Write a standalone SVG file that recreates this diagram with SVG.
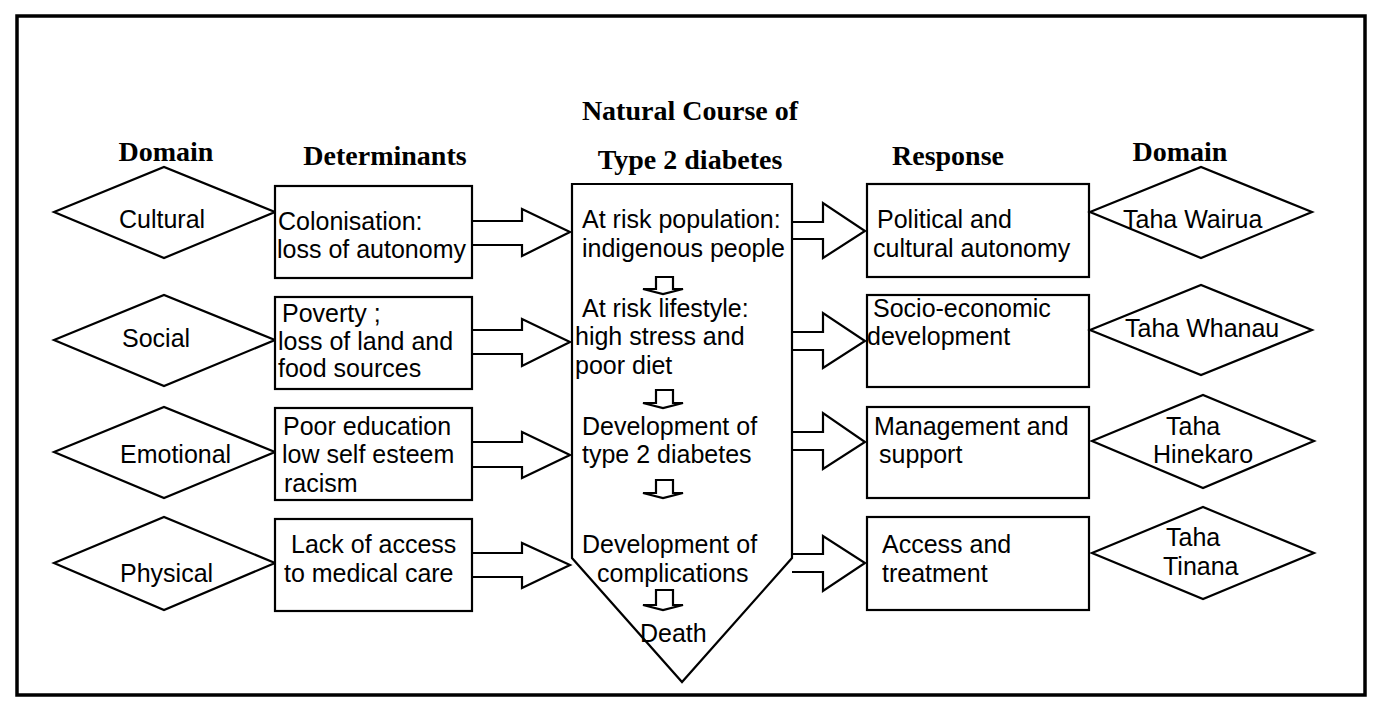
<svg xmlns="http://www.w3.org/2000/svg" width="1374" height="728" viewBox="0 0 1374 728">
<style>
.sh{fill:#fff;stroke:#000;stroke-width:2.2;stroke-linejoin:miter}
.ar{fill:#fff;stroke:#000;stroke-width:2.2;stroke-linejoin:miter}
.t{font-family:"Liberation Sans",Arial,sans-serif;font-size:25px;fill:#000}
.h{font-family:"Liberation Serif","Times New Roman",serif;font-size:28px;font-weight:bold;fill:#000;text-anchor:middle}
</style>
<rect x="0" y="0" width="1374" height="728" fill="#fff"/>
<rect x="17" y="16" width="1348" height="679" fill="none" stroke="#000" stroke-width="3.5"/>
<g id="headers">
<text class="h" x="166" y="161">Domain</text>
<text class="h" x="385" y="165">Determinants</text>
<text class="h" x="690" y="120">Natural Course of</text>
<text class="h" x="690" y="169">Type 2 diabetes</text>
<text class="h" x="948" y="165">Response</text>
<text class="h" x="1180" y="161">Domain</text>
</g>
<g id="connectors">
<path class="ar" d="M472,221 H522 V209 L570,232 L522,256 V245 H472"/>
<path class="ar" d="M472,330 H522 V319 L570,342 L522,366 V354 H472"/>
<path class="ar" d="M472,442 H522 V432 L570,455 L522,478 V467 H472"/>
<path class="ar" d="M472,553 H522 V543 L570,565 L522,588 V577 H472"/>
<path class="ar" d="M792,222 H823 V203 L865,231 L823,258 V239 H792"/>
<path class="ar" d="M792,332 H823 V313 L865,341 L823,368 V350 H792"/>
<path class="ar" d="M792,432 H823 V413 L865,442 L823,469 V450 H792"/>
<path class="ar" d="M792,554 H823 V536 L865,563 L823,591 V572 H792"/>
</g>
<g id="course">
<path class="sh" d="M572,184 H792 V558 L682,682 L572,558 Z"/>
<text class="t" x="582" y="228">At risk population:</text>
<text class="t" x="582" y="257">indigenous people</text>
<text class="t" x="582" y="317">At risk lifestyle:</text>
<text class="t" x="575" y="345">high stress and</text>
<text class="t" x="575" y="374">poor diet</text>
<text class="t" x="582" y="435">Development of</text>
<text class="t" x="582" y="463">type 2 diabetes</text>
<text class="t" x="582" y="553">Development of</text>
<text class="t" x="597" y="582">complications</text>
<text class="t" x="640" y="642">Death</text>
</g>
<g id="stage-arrows">
<path class="ar" d="M656,277 H673 V289 H683 L663,294 L643,289 H656 Z"/>
<path class="ar" d="M656,390 H673 V403 H683 L663,408 L643,403 H656 Z"/>
<path class="ar" d="M656,480 H673 V493 H683 L663,498 L643,493 H656 Z"/>
<path class="ar" d="M656,590 H673 V605 H683 L663,610 L643,605 H656 Z"/>
</g>
<g id="domain-cultural">
<path class="sh" d="M54,212 L164,167 L275,212 L164,258 Z"/>
<text class="t" x="119" y="228">Cultural</text>
</g>
<g id="domain-social">
<path class="sh" d="M54,340 L164,295 L275,340 L164,386 Z"/>
<text class="t" x="122" y="347">Social</text>
</g>
<g id="domain-emotional">
<path class="sh" d="M54,452 L164,407 L275,452 L164,498 Z"/>
<text class="t" x="120" y="463">Emotional</text>
</g>
<g id="domain-physical">
<path class="sh" d="M54,563 L164,517 L275,563 L164,610 Z"/>
<text class="t" x="120" y="582">Physical</text>
</g>
<g id="det-colonisation">
<rect class="sh" x="275" y="186" width="197" height="92"/>
<text class="t" x="278" y="230">Colonisation:</text>
<text class="t" x="277" y="258">loss of autonomy</text>
</g>
<g id="det-poverty">
<rect class="sh" x="275" y="297" width="197" height="92"/>
<text class="t" x="282" y="322">Poverty ;</text>
<text class="t" x="278" y="350">loss of land and</text>
<text class="t" x="278" y="377">food sources</text>
</g>
<g id="det-education">
<rect class="sh" x="275" y="408" width="197" height="92"/>
<text class="t" x="283" y="435">Poor education</text>
<text class="t" x="282" y="463">low self esteem</text>
<text class="t" x="284" y="492">racism</text>
</g>
<g id="det-access">
<rect class="sh" x="275" y="519" width="197" height="92"/>
<text class="t" x="291" y="553">Lack of access</text>
<text class="t" x="284" y="582">to medical care</text>
</g>
<g id="resp-political">
<rect class="sh" x="867" y="184" width="222" height="93"/>
<text class="t" x="877" y="228">Political and</text>
<text class="t" x="873" y="257">cultural autonomy</text>
</g>
<g id="resp-socio">
<rect class="sh" x="867" y="295" width="222" height="92"/>
<text class="t" x="873" y="317">Socio-economic</text>
<text class="t" x="867" y="345">development</text>
</g>
<g id="resp-management">
<rect class="sh" x="867" y="407" width="222" height="91"/>
<text class="t" x="874" y="435">Management and</text>
<text class="t" x="879" y="463">support</text>
</g>
<g id="resp-access">
<rect class="sh" x="867" y="517" width="222" height="93"/>
<text class="t" x="882" y="553">Access and</text>
<text class="t" x="882" y="582">treatment</text>
</g>
<g id="domain-wairua">
<path class="sh" d="M1090,212 L1201,167 L1312,212 L1201,258 Z"/>
<text class="t" x="1123" y="228">Taha Wairua</text>
</g>
<g id="domain-whanau">
<path class="sh" d="M1090,330 L1201,285 L1312,330 L1201,375 Z"/>
<text class="t" x="1125" y="337">Taha Whanau</text>
</g>
<g id="domain-hinekaro">
<path class="sh" d="M1092,441 L1203,395 L1314,441 L1203,488 Z"/>
<text class="t" x="1166" y="435">Taha</text>
<text class="t" x="1153" y="463">Hinekaro</text>
</g>
<g id="domain-tinana">
<path class="sh" d="M1092,553 L1203,507 L1314,553 L1203,599 Z"/>
<text class="t" x="1166" y="546">Taha</text>
<text class="t" x="1163" y="575">Tinana</text>
</g>
</svg>
